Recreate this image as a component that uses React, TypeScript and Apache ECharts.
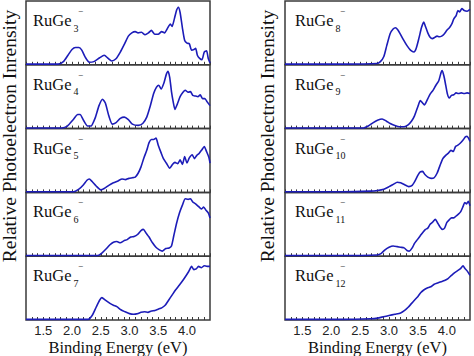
import React, { useEffect, useRef } from "react";
import * as echarts from "echarts";

// Binding energy (eV), relative intensity (0..1 of panel height)
const ruge3 = [[1.2,0.01],[1.5,0.01],[1.76,0.01],[1.85,0.05],[1.93,0.15],[2.0,0.24],[2.06,0.27],[2.12,0.27],[2.17,0.23],[2.23,0.12],[2.3,0.04],[2.38,0.05],[2.48,0.11],[2.56,0.15],[2.63,0.1],[2.69,0.06],[2.76,0.09],[2.84,0.2],[2.92,0.34],[2.98,0.45],[3.04,0.5],[3.1,0.52],[3.15,0.5],[3.21,0.51],[3.27,0.47],[3.33,0.5],[3.38,0.54],[3.44,0.48],[3.5,0.48],[3.56,0.52],[3.61,0.5],[3.66,0.57],[3.71,0.64],[3.74,0.6],[3.78,0.72],[3.82,0.86],[3.85,0.9],[3.88,0.82],[3.92,0.58],[3.96,0.38],[4.0,0.34],[4.04,0.33],[4.08,0.23],[4.12,0.24],[4.15,0.26],[4.18,0.15],[4.22,0.1],[4.26,0.08],[4.3,0.2],[4.34,0.22],[4.37,0.1],[4.4,0.03]];
const ruge4 = [[1.2,0.01],[1.5,0.01],[1.82,0.01],[1.92,0.04],[2.02,0.14],[2.1,0.22],[2.14,0.22],[2.2,0.13],[2.27,0.04],[2.33,0.04],[2.4,0.16],[2.47,0.36],[2.53,0.46],[2.58,0.4],[2.64,0.2],[2.7,0.07],[2.76,0.09],[2.84,0.16],[2.91,0.18],[2.98,0.14],[3.05,0.07],[3.15,0.05],[3.23,0.08],[3.3,0.18],[3.36,0.35],[3.42,0.55],[3.47,0.65],[3.51,0.68],[3.55,0.62],[3.6,0.72],[3.64,0.85],[3.67,0.9],[3.7,0.8],[3.73,0.58],[3.76,0.42],[3.79,0.3],[3.83,0.38],[3.88,0.5],[3.93,0.57],[3.97,0.6],[4.02,0.57],[4.06,0.58],[4.1,0.52],[4.15,0.51],[4.19,0.5],[4.23,0.53],[4.27,0.47],[4.31,0.47],[4.35,0.42],[4.4,0.36]];
const ruge5 = [[1.2,0.01],[1.6,0.01],[2.03,0.01],[2.12,0.05],[2.2,0.12],[2.26,0.19],[2.3,0.21],[2.35,0.17],[2.42,0.1],[2.5,0.04],[2.56,0.06],[2.64,0.11],[2.72,0.15],[2.8,0.18],[2.87,0.21],[2.93,0.2],[2.99,0.22],[3.05,0.23],[3.1,0.24],[3.15,0.3],[3.2,0.4],[3.25,0.54],[3.3,0.66],[3.34,0.78],[3.38,0.83],[3.42,0.83],[3.46,0.85],[3.5,0.74],[3.55,0.62],[3.59,0.53],[3.64,0.46],[3.7,0.38],[3.75,0.44],[3.79,0.47],[3.84,0.45],[3.88,0.51],[3.92,0.44],[3.96,0.56],[4.0,0.46],[4.04,0.54],[4.09,0.59],[4.13,0.53],[4.17,0.58],[4.21,0.61],[4.26,0.67],[4.3,0.72],[4.34,0.64],[4.38,0.55],[4.4,0.46]];
const ruge6 = [[1.2,0.01],[1.8,0.01],[2.45,0.01],[2.52,0.05],[2.6,0.12],[2.66,0.18],[2.72,0.22],[2.78,0.23],[2.84,0.21],[2.9,0.24],[2.96,0.26],[3.02,0.3],[3.08,0.31],[3.14,0.34],[3.2,0.4],[3.24,0.42],[3.29,0.36],[3.34,0.3],[3.4,0.21],[3.46,0.14],[3.52,0.1],[3.57,0.08],[3.63,0.12],[3.69,0.13],[3.73,0.16],[3.77,0.32],[3.82,0.52],[3.87,0.68],[3.92,0.8],[3.97,0.9],[4.02,0.89],[4.06,0.9],[4.1,0.85],[4.15,0.82],[4.2,0.78],[4.25,0.74],[4.29,0.77],[4.33,0.72],[4.37,0.68],[4.4,0.6]];
const ruge7 = [[1.2,0.01],[1.8,0.01],[2.28,0.01],[2.35,0.07],[2.42,0.2],[2.48,0.31],[2.52,0.35],[2.58,0.31],[2.66,0.26],[2.72,0.23],[2.78,0.21],[2.85,0.16],[2.92,0.13],[3.0,0.1],[3.07,0.09],[3.14,0.1],[3.2,0.12],[3.26,0.13],[3.32,0.12],[3.38,0.14],[3.44,0.15],[3.5,0.17],[3.56,0.19],[3.62,0.23],[3.68,0.31],[3.74,0.39],[3.8,0.47],[3.86,0.54],[3.92,0.61],[3.98,0.69],[4.03,0.76],[4.08,0.84],[4.12,0.79],[4.16,0.8],[4.2,0.84],[4.25,0.82],[4.3,0.85],[4.35,0.84],[4.4,0.84]];
const ruge8 = [[1.2,0.01],[2.2,0.01],[2.79,0.02],[2.85,0.05],[2.91,0.13],[2.96,0.3],[3.02,0.49],[3.07,0.56],[3.11,0.58],[3.15,0.55],[3.19,0.49],[3.25,0.39],[3.31,0.3],[3.37,0.23],[3.43,0.2],[3.47,0.26],[3.52,0.43],[3.56,0.58],[3.6,0.67],[3.63,0.6],[3.67,0.5],[3.71,0.43],[3.75,0.41],[3.79,0.43],[3.83,0.45],[3.87,0.44],[3.91,0.45],[3.95,0.48],[4.0,0.54],[4.05,0.59],[4.09,0.65],[4.12,0.72],[4.16,0.77],[4.19,0.85],[4.22,0.83],[4.26,0.88],[4.3,0.85],[4.35,0.84],[4.4,0.87]];
const ruge9 = [[1.2,0.01],[2.0,0.01],[2.56,0.01],[2.64,0.04],[2.72,0.09],[2.8,0.13],[2.88,0.15],[2.95,0.12],[3.02,0.08],[3.1,0.05],[3.18,0.03],[3.26,0.03],[3.33,0.06],[3.39,0.12],[3.44,0.2],[3.5,0.35],[3.54,0.44],[3.58,0.4],[3.61,0.37],[3.66,0.45],[3.71,0.54],[3.76,0.6],[3.81,0.68],[3.86,0.75],[3.9,0.88],[3.92,0.91],[3.95,0.82],[3.98,0.68],[4.01,0.54],[4.04,0.48],[4.08,0.52],[4.12,0.53],[4.16,0.56],[4.2,0.55],[4.25,0.56],[4.3,0.55],[4.35,0.56],[4.4,0.55]];
const ruge10 = [[1.2,0.01],[2.2,0.01],[2.68,0.02],[2.8,0.03],[2.91,0.05],[3.0,0.09],[3.08,0.13],[3.14,0.16],[3.2,0.15],[3.27,0.12],[3.34,0.09],[3.4,0.11],[3.45,0.18],[3.5,0.27],[3.54,0.32],[3.58,0.33],[3.62,0.28],[3.67,0.24],[3.73,0.22],[3.78,0.23],[3.83,0.3],[3.88,0.42],[3.93,0.53],[3.98,0.58],[4.03,0.62],[4.07,0.66],[4.11,0.64],[4.15,0.72],[4.19,0.74],[4.23,0.77],[4.28,0.82],[4.32,0.87],[4.35,0.88],[4.38,0.84],[4.4,0.8]];
const ruge11 = [[1.2,0.01],[2.2,0.01],[2.79,0.02],[2.86,0.04],[2.93,0.1],[3.0,0.14],[3.07,0.16],[3.14,0.15],[3.2,0.14],[3.26,0.13],[3.31,0.09],[3.35,0.08],[3.4,0.13],[3.44,0.2],[3.49,0.26],[3.54,0.32],[3.59,0.38],[3.63,0.42],[3.67,0.44],[3.71,0.5],[3.75,0.53],[3.8,0.58],[3.84,0.52],[3.88,0.46],[3.92,0.42],[3.96,0.44],[4.0,0.53],[4.04,0.57],[4.08,0.6],[4.12,0.6],[4.16,0.63],[4.2,0.66],[4.24,0.7],[4.28,0.78],[4.31,0.84],[4.34,0.82],[4.37,0.86],[4.4,0.79]];
const ruge12 = [[1.2,0.01],[2.2,0.01],[2.68,0.02],[2.8,0.03],[2.9,0.05],[3.0,0.07],[3.1,0.09],[3.2,0.11],[3.27,0.15],[3.33,0.2],[3.39,0.26],[3.45,0.32],[3.5,0.37],[3.55,0.43],[3.6,0.47],[3.66,0.5],[3.72,0.52],[3.78,0.56],[3.84,0.58],[3.9,0.6],[3.96,0.62],[4.02,0.65],[4.08,0.7],[4.13,0.74],[4.18,0.77],[4.23,0.8],[4.28,0.85],[4.31,0.81],[4.35,0.77],[4.4,0.7]];

const leftSeries = [ruge3, ruge4, ruge5, ruge6, ruge7];
const rightSeries = [ruge8, ruge9, ruge10, ruge11, ruge12];
const leftSubs = ["3", "4", "5", "6", "7"];
const rightSubs = ["8", "9", "10", "11", "12"];
const xMin = 1.2;
const xMax = 4.4;
const xLabelTicks = [1.5, 2.0, 2.5, 3.0, 3.5, 4.0];
const xTitle = "Binding Energy (eV)";
const yTitle = "Relative Photoelectron Inrensity";

const LINE = "#1c1cb8";
const FRAME = "#3a3a3a";
const SERIF = "Liberation Serif";

export default function App() {
  const ref = useRef<HTMLDivElement>(null);
  useEffect(() => {
    if (!ref.current) return;
    const chart = echarts.init(ref.current, null, { renderer: "svg" });
    const grids: any[] = [];
    const xAxes: any[] = [];
    const yAxes: any[] = [];
    const series: any[] = [];
    const graphics: any[] = [];
    const panelTop = 1;
    const panelH = 63.8;
    const cols = [
      { left: 26, width: 184, data: leftSeries, subs: leftSubs, labelX: 33 },
      { left: 285, width: 185, data: rightSeries, subs: rightSubs, labelX: 295 },
    ];
    cols.forEach((c, ci) => {
      c.data.forEach((d, i) => {
        const idx = grids.length;
        const top = panelTop + i * panelH;
        const isBottom = i === c.data.length - 1;
        grids.push({
          left: c.left, width: c.width, top, height: panelH,
          show: true, borderColor: FRAME, borderWidth: 1.5, backgroundColor: "transparent",
        });
        xAxes.push({
          type: "value", gridIndex: idx, min: xMin, max: xMax, interval: 0.1,
          axisLine: { show: false },
          splitLine: { show: false },
          axisTick: { show: true, inside: true, length: 3, lineStyle: { color: FRAME, width: 1 } },
          axisLabel: {
            show: isBottom,
            margin: 4,
            fontFamily: "Liberation Sans",
            fontSize: 13,
            color: "#222",
            showMinLabel: false,
            showMaxLabel: false,
            formatter: (v: number) => {
              const hit = xLabelTicks.find((t) => Math.abs(t - v) < 1e-6);
              return hit !== undefined ? hit.toFixed(1) : "";
            },
          },
        });
        yAxes.push({ type: "value", gridIndex: idx, min: 0, max: 1, show: false });
        series.push({
          type: "line", xAxisIndex: idx, yAxisIndex: idx, data: d,
          showSymbol: false, smooth: 0.2, lineStyle: { color: LINE, width: 1.6 },
          clip: true,
        });
        graphics.push({
          type: "text", x: c.labelX, y: top + 19.5,
          style: { text: "RuGe", fontSize: 16.5, fontFamily: SERIF, fill: "#111", verticalAlign: "middle" },
        });
        graphics.push({
          type: "text", x: c.labelX + 40.5, y: top + 27,
          style: { text: c.subs[i], fontSize: 10, fontFamily: SERIF, fill: "#111", verticalAlign: "middle" },
        });
        graphics.push({
          type: "text", x: c.labelX + 45, y: top + 10,
          style: { text: "\u2212", fontSize: 9, fontFamily: SERIF, fill: "#111", verticalAlign: "middle" },
        });
      });
      const cx = c.left + c.width / 2;
      graphics.push({
        type: "text", x: cx, y: 347,
        style: { text: xTitle, fontSize: 16.5, fontFamily: SERIF, fill: "#111", align: "center", verticalAlign: "middle" },
      });
      graphics.push({
        type: "text", x: ci === 0 ? 9 : 267, y: 136, rotation: Math.PI / 2,
        style: { text: yTitle, fontSize: 19.5, fontFamily: SERIF, fill: "#111", align: "center", verticalAlign: "middle" },
      });
    });
    chart.setOption({
      animation: false,
      backgroundColor: "#fff",
      grid: grids,
      xAxis: xAxes,
      yAxis: yAxes,
      series,
      graphic: graphics,
    });
    return () => chart.dispose();
  }, []);
  return <div ref={ref} style={{ width: 474, height: 356, position: "absolute", left: 0, top: 0 }} />;
}
